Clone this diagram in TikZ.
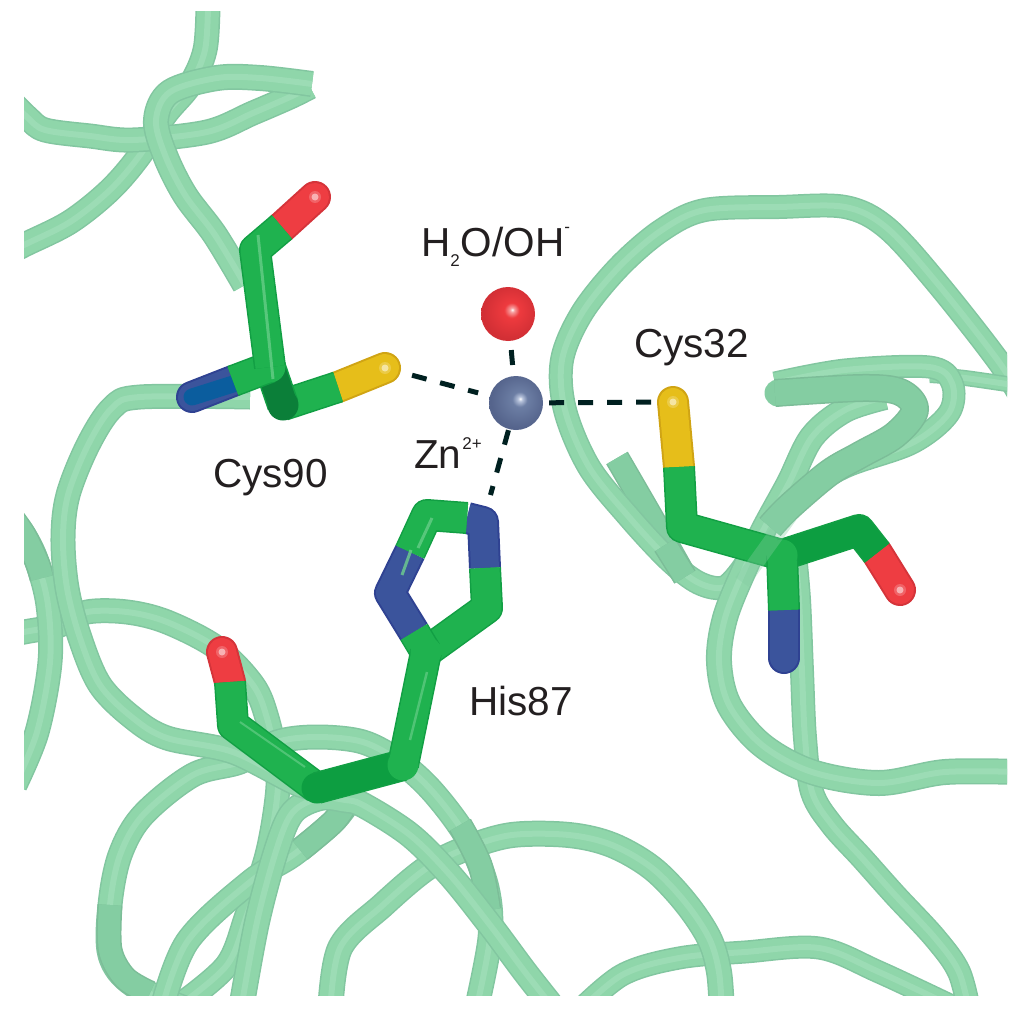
\documentclass[tikz,border=0pt]{standalone}
\usepackage{fontspec}
\setmainfont{Liberation Sans}
\definecolor{ribE}{HTML}{82C6A0}
\definecolor{ribM}{HTML}{8FD6AA}
\definecolor{ribL}{HTML}{9CDCB5}
\definecolor{ribDE}{HTML}{7CBD98}
\definecolor{ribDM}{HTML}{84CDA2}
\definecolor{gE}{HTML}{129F44}
\definecolor{gM}{HTML}{1FB24F}
\definecolor{gD}{HTML}{0D9E41}
\definecolor{gS}{HTML}{0B7F39}
\definecolor{gL}{HTML}{6FD08F}
\definecolor{oE}{HTML}{D5343A}
\definecolor{oM}{HTML}{EE3D42}
\definecolor{nE}{HTML}{2F4292}
\definecolor{nM}{HTML}{3B549C}
\definecolor{sE}{HTML}{D0A414}
\definecolor{sM}{HTML}{E6BE1A}
\definecolor{txt}{HTML}{231F20}
\definecolor{znA}{HTML}{B8C4DC}
\definecolor{znB}{HTML}{6C7EA4}
\definecolor{znC}{HTML}{55648C}
\definecolor{reA}{HTML}{F6A0A0}
\definecolor{reB}{HTML}{EE3A3E}
\definecolor{reC}{HTML}{D22F35}
\pgfdeclareradialshading{znball}{\pgfpoint{4bp}{4bp}}{color(0bp)=(white);color(2bp)=(znA);color(7bp)=(znB);color(25bp)=(znC);color(50bp)=(znC)}
\pgfdeclareradialshading{reball}{\pgfpoint{4bp}{4bp}}{color(0bp)=(white);color(2bp)=(reA);color(7bp)=(reB);color(25bp)=(reC);color(50bp)=(reC)}
\tikzset{
  every node/.style={font=\fontsize{40.5}{44}\selectfont,text=txt,inner sep=0pt},
  lab/.style={anchor=base west},
  atomball/.style={circle,minimum size=54pt,draw=none},
  hbond/.style={draw=black!75!teal,line width=5pt,dash pattern=on 15pt off 14pt},
  bnd/.style={line cap=butt,line join=round},
  tip/.style={line cap=round},
  ribp/.style={line join=round,line cap=butt}
}
\newcommand\rib[2][25]{%
  \draw[ribp,draw=ribE,line width=#1pt] plot[smooth,tension=.55] coordinates {#2};
  \draw[ribp,draw=ribM,line width=#1pt-3pt] plot[smooth,tension=.55] coordinates {#2};
  \draw[ribp,draw=ribL,line width=6pt] plot[smooth,tension=.55] coordinates {#2};
}
\newcommand\ribd[2][25]{%
  \draw[ribp,draw=ribDE,line width=#1pt] plot[smooth,tension=.55] coordinates {#2};
  \draw[ribp,draw=ribDM,line width=#1pt-3pt] plot[smooth,tension=.55] coordinates {#2};
}
\newcommand\tipn[4]{%
  \draw[tip,draw=#3,line width=32pt] (#1) -- (#2);
  \draw[tip,draw=#4,line width=28pt] (#1) -- (#2);
}
\newcommand\tipb[4]{%
  \tipn{#1}{#2}{#3}{#4}
  \fill[white,opacity=.2] (#2) circle (6);
  \fill[white,opacity=.5] (#2) circle (3.5);
}
\newcommand\gstick[2][gM]{%
  \draw[bnd,draw=gE,line width=32pt] #2;
  \draw[bnd,draw=#1,line width=29pt] #2;
}
\newcommand\gjoin[2][gM]{\fill[#1] (#2) circle (15.5);}
\newcommand\sm[1]{{\fontsize{17}{17}\selectfont #1}}
\begin{document}
\begin{tikzpicture}[x=1pt,y=-1pt]
\useasboundingbox (0,0) rectangle (1024,1011);
\begin{scope}
\clip (24,12) rectangle (1007,995);
% ---- ribbons, back to front ----
\rib{(5,255) (24,245) (70,222) (110,190) (140,155) (165,115) (190,85) (205,50) (208,5)}
\rib{(10,100) (28,118) (45,130) (90,136) (133,140) (207,132) (253,113) (290,97) (310,87)}
\rib[26]{(312,84) (260,78) (217,78) (170,92) (156,120) (165,155) (185,195) (215,235) (245,285)}
\rib{(5,636) (24,632) (60,625) (87,612) (127,612) (167,622) (217,648) (253,685) (267,718) (277,765) (277,798) (267,855) (247,915) (227,965) (180,1005)}
\rib{(5,510) (24,535) (37,562) (48,605) (50,662) (37,732) (15,785)}
\ribd{(10,515) (24,535) (37,562) (42,578)}
\rib[23]{(575,1015) (622,975) (679,958) (745,952) (819,948) (879,972) (960,1010)}
\rib[26]{(330,1015) (340,948) (383,905) (427,868) (467,848) (512,835) (569,835) (612,845) (652,868) (685,902) (709,938) (719,972) (722,1015)}
\rib[25]{(190,1010) (133,985) (110,955) (110,905) (120,855) (143,815) (193,775) (240,762) (277,742) (317,737) (363,742) (400,762) (433,792) (467,838) (487,888) (490,938) (475,1015)}
\ribd[25]{(150,993) (125,978) (110,950) (110,905)}
\ribd[25]{(460,825) (480,865) (489,910)}
\rib[25]{(160,1015) (187,942) (250,882) (293,855) (333,822) (350,800)}
\ribd[25]{(300,850) (333,822) (345,805)}
\rib[26]{(240,1015) (257,922) (277,848) (293,812) (320,798) (345,800) (363,805) (410,835) (450,875) (490,925) (525,972) (555,1010)}
\rib[25]{(250,397) (140,397) (112,408) (88,445) (68,495) (63,538) (67,588) (80,638) (100,685) (133,718) (167,738) (233,752) (300,785) (325,785)}
\rib[24]{(795,555) (799,600) (802,672) (805,738) (812,792) (832,825) (862,858) (895,895) (935,938) (959,972) (970,1015)}
% big top loop
\ribd[25]{(617,458) (650,515) (685,577)}
\rib[24]{(1025,405) (999,362) (937,283) (887,228) (845,207) (779,207) (705,210) (662,230) (619,267) (582,313) (562,360) (565,410) (589,467) (629,517) (669,560) (699,583) (725,587) (745,565)}
\ribd[25]{(665,545) (685,577)}
\rib[16]{(930,375) (965,378) (1020,386)}
% right-hand knot
\rib[23]{(775,383) (845,370) (929,367) (952,383) (949,413) (912,443) (845,467) (795,497) (772,527)}
\rib[26]{(1020,772) (945,772) (879,783) (812,772) (762,745) (729,705) (719,662) (725,618) (745,568) (765,527) (789,483) (812,437) (845,410) (885,397)}
\fill[ribDM] (778,393) circle (13.5);
\ribd[28]{(775,393) (862,388) (900,392) (915,410) (895,435) (860,455) (829,473) (789,507) (770,527)}
\end{scope}
% ---- named atom positions ----
\coordinate (c90o)  at (315,197);
\coordinate (c90ob) at (282,227);
\coordinate (c90c)  at (255,250);
\coordinate (c90a)  at (270,367);
\coordinate (c90n)  at (192,397);
\coordinate (c90nb) at (233,381);
\coordinate (c90b)  at (283,405);
\coordinate (c90sb) at (338,387);
\coordinate (s90)   at (385,368);
\coordinate (h87o)  at (222,652);
\coordinate (h87ob) at (230,682);
\coordinate (h87c)  at (233,725);
\coordinate (h87a)  at (317,788);
\coordinate (h87b)  at (403,765);
\coordinate (h87g)  at (426,652);
\coordinate (h87d1) at (414,632);
\coordinate (h87nd) at (390,593);
\coordinate (h87d2) at (410,552);
\coordinate (h87t)  at (427,515);
\coordinate (h87e1) at (467,518);
\coordinate (h87ne) at (483,522);
\coordinate (h87e2) at (485,568);
\coordinate (h87e)  at (487,608);
\coordinate (s32)   at (673,402);
\coordinate (c32sb) at (679,467);
\coordinate (c32b)  at (682,527);
\coordinate (c32a)  at (782,555);
\coordinate (c32c)  at (859,530);
\coordinate (c32ob) at (877,553);
\coordinate (c32o)  at (900,590);
\coordinate (c32nb) at (784,610);
\coordinate (c32n)  at (784,658);
% ---- balls and dashed contacts ----
\node[atomball,shading=znball] (zn) at (516,403) {};
\node[atomball,shading=reball] (wat) at (508,314) {};
\draw[hbond,shorten <=28pt,shorten >=12pt] (s90) -- (zn);
\draw[hbond,shorten <=9pt] (wat) -- (zn);
\draw[hbond,shorten <=6pt,shorten >=18pt] (zn) -- (s32);
\draw[hbond,shorten <=1pt,shorten >=28pt] (zn) -- (h87ne);
% ---- Cys90 ----
\tipb{c90ob}{c90o}{oE}{oM}
\tipn{c90nb}{c90n}{nE}{nM}
\draw[tip,draw=teal!75!blue,line width=17pt,opacity=.8] (c90n) -- ([yshift=-3pt]c90nb);
\tipb{c90sb}{s90}{sE}{sM}
\gstick{(c90sb) -- (c90b)}
\gstick[gS]{(c90a) -- (c90b)}
\gjoin[gS]{c90b}
\gstick{(c90nb) -- (c90a)}
\gjoin{c90a}
\gstick{(c90ob) -- (c90c) -- (c90a)}
\draw[draw=gL,opacity=.7,line width=3pt] ([xshift=3pt,yshift=15pt]c90c) -- ([xshift=3pt,yshift=-12pt]c90a);
% ---- His87 ----
\tipb{h87ob}{h87o}{oE}{oM}
\draw[bnd,draw=nE,line width=32pt] (h87d1) -- (h87nd) -- (h87d2);
\draw[bnd,draw=nM,line width=28pt] (h87d1) -- (h87nd) -- (h87d2);
\draw[bnd,draw=nE,line width=32pt] (h87e1) -- (h87ne) -- (h87e2);
\draw[bnd,draw=nM,line width=28pt] (h87e1) -- (h87ne) -- (h87e2);
\gstick{(h87e2) -- (h87e) -- (h87g)}
\gstick{(h87d1) -- (h87g)}
\gstick{(h87d2) -- (h87t) -- (h87e1)}
\gstick[gM]{(h87ob) -- (h87c) -- (h87a)}
\gjoin[gD]{h87a}
\gstick[gD]{(h87a) -- (h87b)}
\gstick{(h87b) -- (h87g)}
\gjoin{h87b}
\gjoin{h87g}
\draw[draw=gL,opacity=.8,line width=3pt] (402,575) -- (411,550);
\draw[draw=gL,opacity=.7,line width=3pt] (418,548) -- (432,518);
\draw[draw=gL,opacity=.6,line width=2.5pt] (410,740) -- (427,672);
\draw[draw=gL,opacity=.6,line width=2pt] (240,722) -- (305,767);
% ---- Cys32 ----
\tipb{c32sb}{s32}{sE}{sM}
\tipb{c32ob}{c32o}{oE}{oM}
\tipn{c32nb}{c32n}{nE}{nM}
\gstick{(c32sb) -- (c32b) -- (c32a)}
\gstick[gD]{(c32ob) -- (c32c) -- (c32a)}
\gstick{(c32nb) -- (c32a)}
\gjoin{c32a}
\draw[ribDM,opacity=.35,line width=16pt] (742,582) -- (790,515);
% ---- labels ----
\node[lab] (lwat) at (421,256) {H\raisebox{-.25em}{\sm{2}}\kern1pt O/OH\raisebox{.57em}{\sm{-}}};
\node[lab] (lc32) at (634,357) {Cys32};
\node[lab] (lc90) at (213,487) {Cys90};
\node[lab] (lzn)  at (414,468) {Zn\raisebox{.45em}{\sm{\kern1pt 2+}}};
\node[lab] (lh87) at (469,715) {His87};
\end{tikzpicture}
\end{document}
